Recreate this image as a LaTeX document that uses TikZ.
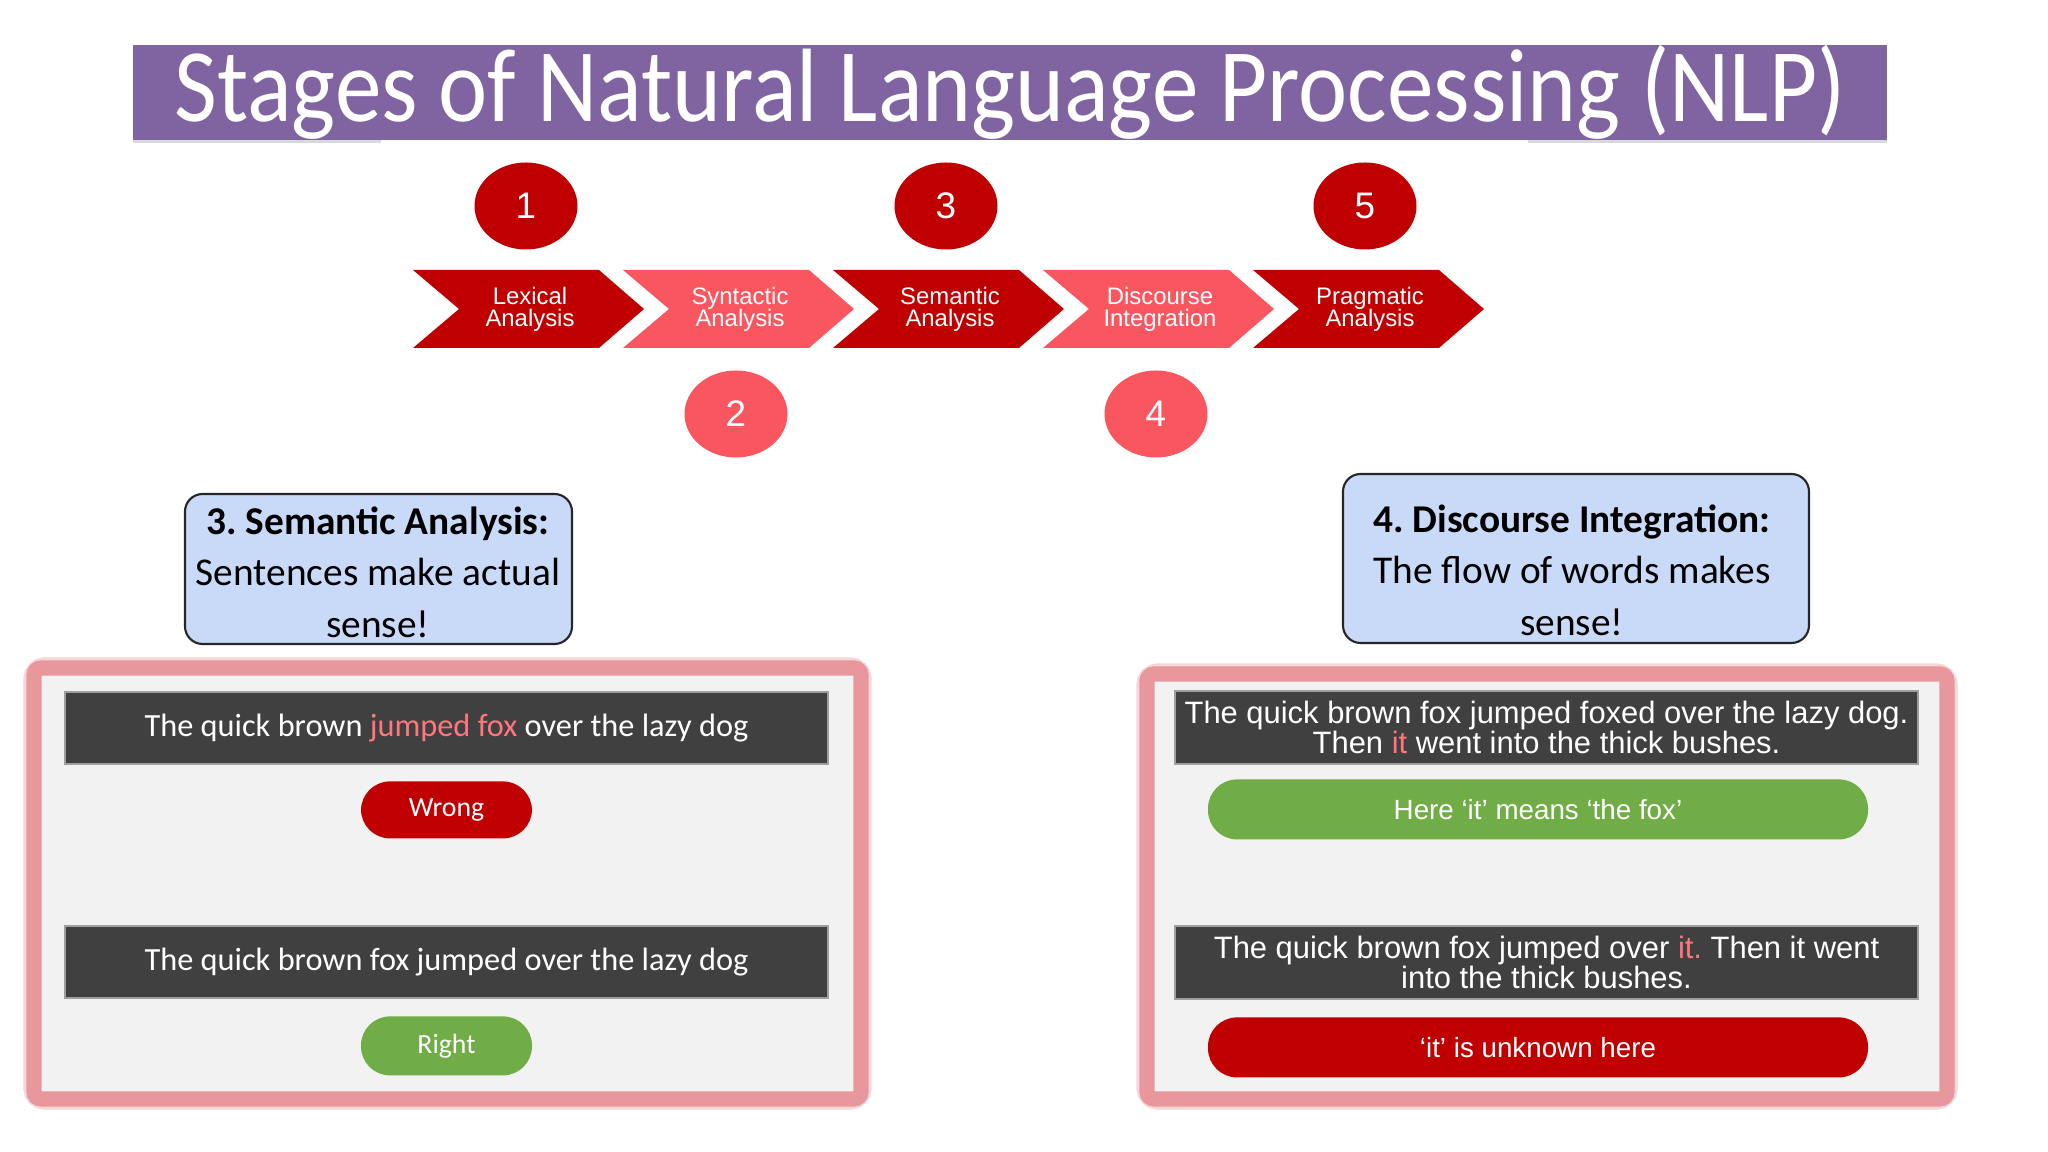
\documentclass[tikz,border=0pt]{standalone}
\usepackage{graphicx}
\usepackage{fontspec}
\setmainfont{Carlito}
\newfontfamily\arialfont{Liberation Sans}
\usetikzlibrary{positioning,shapes.geometric}
\frenchspacing
\newcommand\tightlines{\lineskiplimit=-20pt\relax}
\definecolor{titlepurple}{RGB}{128,100,162}
\definecolor{stagered}{RGB}{192,0,0}
\definecolor{stagepink}{RGB}{250,86,96}
\definecolor{boxblue}{RGB}{201,218,248}
\definecolor{panelgray}{RGB}{242,242,242}
\definecolor{panelpink}{RGB}{232,152,157}
\definecolor{bardark}{RGB}{64,64,64}
\definecolor{hlpink}{RGB}{255,118,126}
\definecolor{okgreen}{RGB}{112,173,71}
\tikzset{
  stagenum/.style={ellipse,minimum width=1.03cm,minimum height=0.87cm,
    inner sep=0pt,text=white,font=\arialfont\fontsize{10.5}{12}\selectfont},
  stagetext/.style={text=white,align=center,inner sep=0pt,
    font=\arialfont\fontsize{6.8}{6.3}\selectfont,
    execute at begin node=\tightlines},
  notebox/.style={draw=black!85,line width=0.6pt,fill=boxblue,rounded corners=5pt},
  notetext/.style={align=center,text=black,font=\fontsize{11.2}{14.7}\selectfont},
  panelglow/.style={draw=panelpink!40,line width=6pt,rounded corners=3pt},
  panel/.style={draw=panelpink,line width=4.3pt,fill=panelgray,rounded corners=2pt},
  sentbar/.style={fill=bardark,draw=gray!75,line width=0.4pt,text=white,
    align=center,inner sep=0pt,execute at begin node=\tightlines},
  pill/.style={rounded corners=2.9mm,inner sep=0pt,text=white},
}

\begin{document}
\begin{tikzpicture}
\useasboundingbox[fill=white] (0,0) rectangle (20.48,11.52);

% title
\fill[gray!30] (1.33,10.15) rectangle (3.81,10.09);
\fill[gray!30] (15.28,10.15) rectangle (18.87,10.09);
\node[fill=titlepurple,minimum width=17.54cm,minimum height=0.89cm,
      inner sep=0pt,text=white,font=\fontsize{26.5}{30}\selectfont]
  (title) at (10.10,10.595)
  {\scalebox{1}[1.12]{Stages of Natural Language Processing (NLP)}};

% stage chevrons
\fill[stagered]  (4.13,8.82) -- ++(1.86,0) -- ++(0.45,-0.39) -- ++(-0.45,-0.39)
  -- ++(-1.86,0) -- ++(0.46,0.39) -- cycle;
\fill[stagepink] (6.23,8.82) -- ++(1.86,0) -- ++(0.45,-0.39) -- ++(-0.45,-0.39)
  -- ++(-1.86,0) -- ++(0.46,0.39) -- cycle;
\fill[stagered]  (8.33,8.82) -- ++(1.86,0) -- ++(0.45,-0.39) -- ++(-0.45,-0.39)
  -- ++(-1.86,0) -- ++(0.46,0.39) -- cycle;
\fill[stagepink] (10.43,8.82) -- ++(1.86,0) -- ++(0.45,-0.39) -- ++(-0.45,-0.39)
  -- ++(-1.86,0) -- ++(0.46,0.39) -- cycle;
\fill[stagered]  (12.53,8.82) -- ++(1.86,0) -- ++(0.45,-0.39) -- ++(-0.45,-0.39)
  -- ++(-1.86,0) -- ++(0.46,0.39) -- cycle;
\node[stagetext] (lexical)   at (5.30,8.43)  {Lexical\\Analysis};
\node[stagetext] (syntactic) at (7.40,8.43)  {Syntactic\\Analysis};
\node[stagetext] (semantic)  at (9.50,8.43)  {Semantic\\Analysis};
\node[stagetext] (discourse) at (11.60,8.43) {Discourse\\Integration};
\node[stagetext] (pragmatic) at (13.70,8.43) {Pragmatic\\Analysis};

% stage numbers
\node[stagenum,fill=stagered]  (n1) at (5.26,9.46)  {1};
\node[stagenum,fill=stagepink] (n2) at (7.36,7.38)  {2};
\node[stagenum,fill=stagered]  (n3) at (9.46,9.46)  {3};
\node[stagenum,fill=stagepink] (n4) at (11.56,7.38) {4};
\node[stagenum,fill=stagered]  (n5) at (13.65,9.46) {5};

% note boxes
\node[notebox,minimum width=3.87cm,minimum height=1.50cm] (semnote) at (3.785,5.83) {};
\node[notetext] at (3.78,5.80)
  {\textbf{3. Semantic Analysis:}\\Sentences make actual\\sense!};
\node[notebox,minimum width=4.66cm,minimum height=1.69cm] (disnote) at (15.76,5.935) {};
\node[notetext] at (15.72,5.82)
  {\textbf{4. Discourse Integration:}\\The flow of words makes\\sense!};

% semantic panel
\draw[panelglow] (0.34,4.84) rectangle (8.61,0.53);
\draw[panel] (0.34,4.84) rectangle (8.61,0.53);
\node[sentbar,minimum width=7.63cm,minimum height=0.72cm,
      font=\fontsize{9.2}{11}\selectfont]
  (lbarA) at (4.465,4.24)
  {The quick brown \textcolor{hlpink}{jumped fox} over the lazy dog};
\node[pill,fill=stagered,minimum width=1.71cm,minimum height=0.57cm,
      font=\fontsize{7.9}{9}\selectfont,below=0.16cm of lbarA] (wrong) {Wrong};
\node[sentbar,minimum width=7.63cm,minimum height=0.72cm,
      font=\fontsize{9.2}{11}\selectfont]
  (lbarB) at (4.465,1.90)
  {The quick brown fox jumped over the lazy dog};
\node[pill,fill=okgreen,minimum width=1.71cm,minimum height=0.59cm,
      font=\fontsize{7.9}{9}\selectfont,below=0.17cm of lbarB] (right) {Right};

% discourse panel
\draw[panelglow] (11.47,4.78) rectangle (19.47,0.53);
\draw[panel] (11.47,4.78) rectangle (19.47,0.53);
\node[sentbar,minimum width=7.43cm,minimum height=0.73cm,
      font=\arialfont\fontsize{8.8}{8.6}\selectfont]
  (rbarA) at (15.465,4.245)
  {The quick brown fox jumped foxed over the lazy dog.\\
   Then \textcolor{hlpink}{it} went into the thick bushes.};
\node[pill,fill=okgreen,minimum width=6.60cm,minimum height=0.60cm,
      font=\arialfont\fontsize{7.9}{9}\selectfont,
      below=0.14cm of rbarA,xshift=-0.85mm] (foxpill) {Here ‘it’ means ‘the fox’};
\node[sentbar,minimum width=7.43cm,minimum height=0.73cm,
      font=\arialfont\fontsize{8.8}{8.6}\selectfont]
  (rbarB) at (15.465,1.895)
  {The quick brown fox jumped over \textcolor{hlpink}{it.} Then it went\\
   into the thick bushes.};
\node[pill,fill=stagered,minimum width=6.60cm,minimum height=0.60cm,
      font=\arialfont\fontsize{7.9}{9}\selectfont,
      below=0.17cm of rbarB,xshift=-0.85mm] (unknownpill) {‘it’ is unknown here};
\end{tikzpicture}
\end{document}
